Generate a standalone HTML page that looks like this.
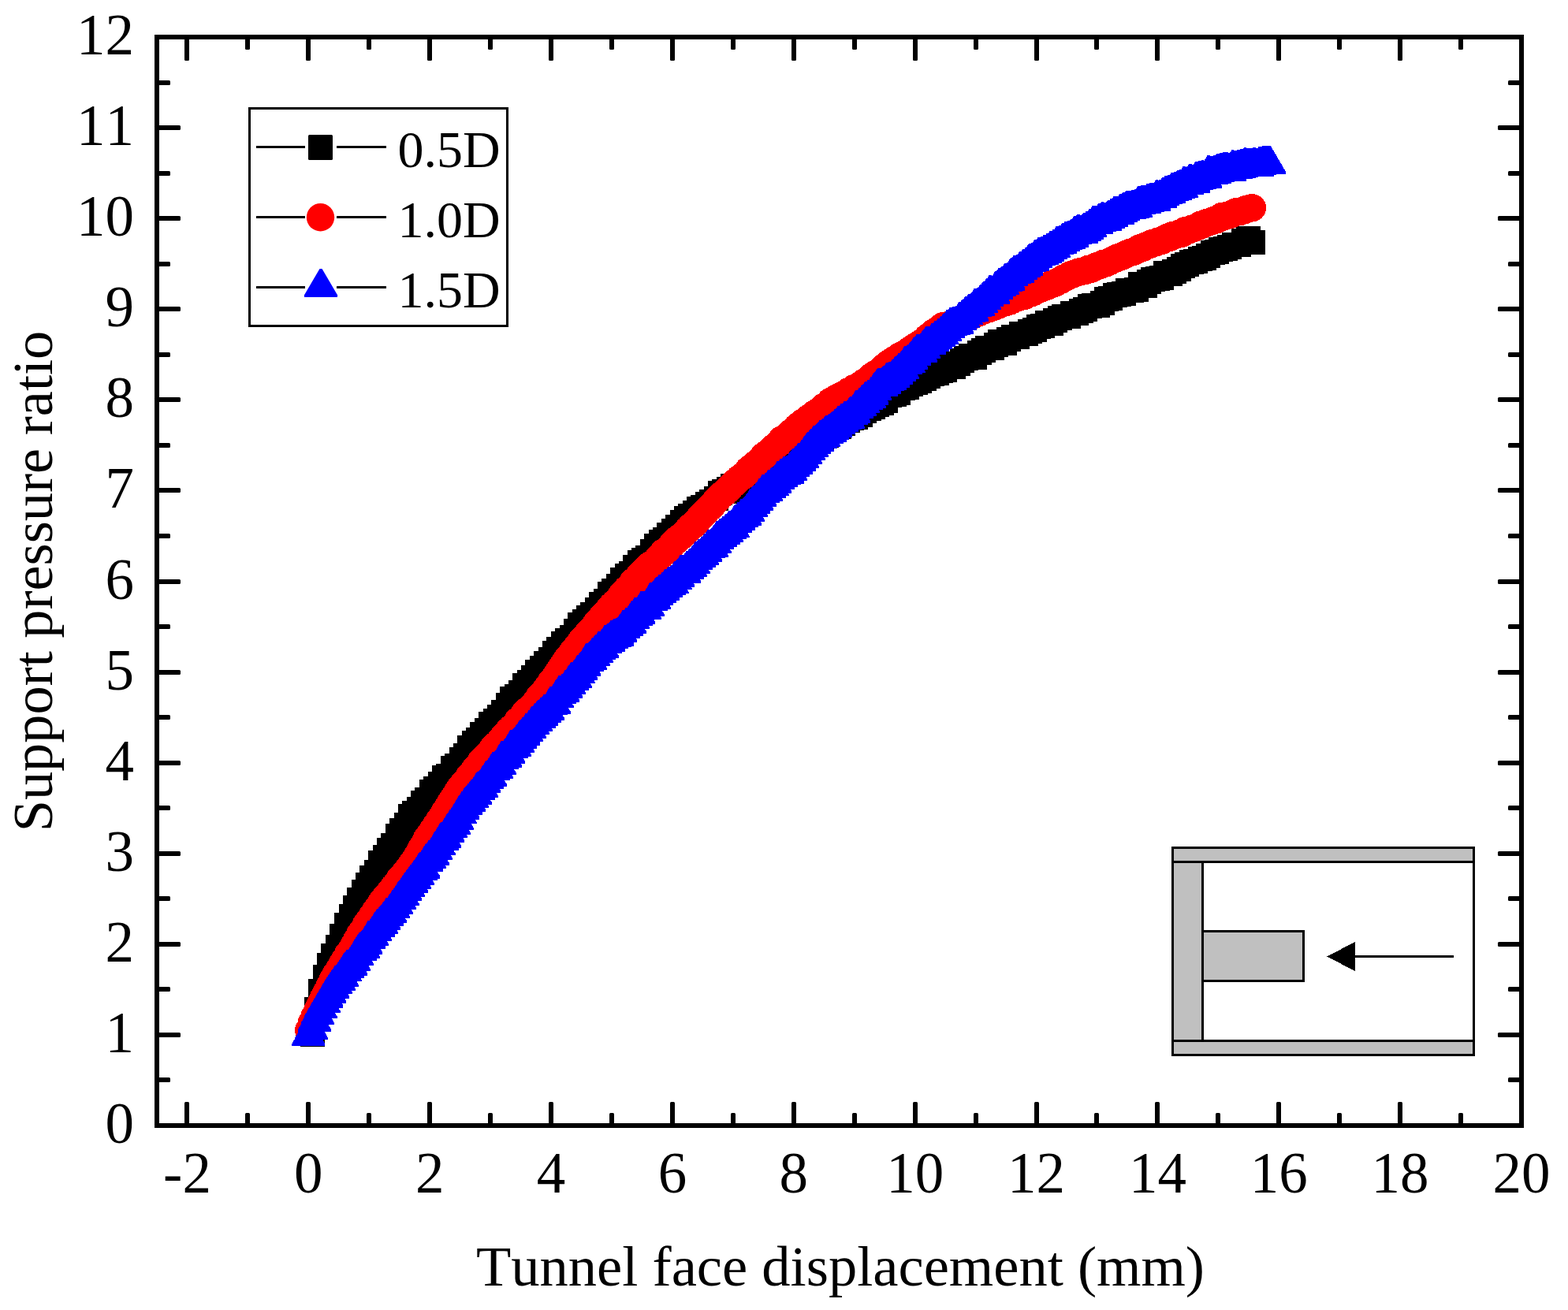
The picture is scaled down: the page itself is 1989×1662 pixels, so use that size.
<!DOCTYPE html>
<html lang="en"><head><meta charset="utf-8"><title>Support pressure ratio vs tunnel face displacement</title>
<style>html,body{margin:0;padding:0;background:#fff}body{width:1989px;height:1662px}svg{display:block}text{font-family:"Liberation Serif","DejaVu Serif",serif;fill:#000;font-kerning:none}</style>
</head><body>
<svg width="1989" height="1662" viewBox="0 0 1989 1662">
<rect x="0" y="0" width="1989" height="1662" fill="#fff"/>
<g id="series-05D" fill="#000" shape-rendering="crispEdges">
<rect x="381" y="1297" width="31" height="31"/>
<rect x="385.8" y="1265.2" width="31" height="31"/>
<rect x="391.1" y="1242.3" width="31" height="31"/>
<rect x="397.1" y="1224.2" width="31" height="31"/>
<rect x="402.1" y="1209.1" width="31" height="31"/>
<rect x="407.1" y="1197.1" width="31" height="31"/>
<rect x="413.1" y="1186" width="31" height="31"/>
<rect x="418.2" y="1172.1" width="31" height="31"/>
<rect x="424.1" y="1158.1" width="31" height="31"/>
<rect x="429.5" y="1146.5" width="31" height="31"/>
<rect x="434.8" y="1136.3" width="31" height="31"/>
<rect x="440.2" y="1125.7" width="31" height="31"/>
<rect x="445.6" y="1115.5" width="31" height="31"/>
<rect x="451" y="1107.4" width="31" height="31"/>
<rect x="456.4" y="1098.2" width="31" height="31"/>
<rect x="461.8" y="1090.6" width="31" height="31"/>
<rect x="467.2" y="1079.3" width="31" height="31"/>
<rect x="472.5" y="1071.5" width="31" height="31"/>
<rect x="477.9" y="1063.2" width="31" height="31"/>
<rect x="483.3" y="1057.3" width="31" height="31"/>
<rect x="488.7" y="1044.8" width="31" height="31"/>
<rect x="494.1" y="1038.1" width="31" height="31"/>
<rect x="499.5" y="1030.7" width="31" height="31"/>
<rect x="504.9" y="1020.1" width="31" height="31"/>
<rect x="510.2" y="1015.8" width="31" height="31"/>
<rect x="515.6" y="1011" width="31" height="31"/>
<rect x="521" y="1003.2" width="31" height="31"/>
<rect x="526.4" y="999.2" width="31" height="31"/>
<rect x="531.8" y="988.9" width="31" height="31"/>
<rect x="537.2" y="984.8" width="31" height="31"/>
<rect x="542.5" y="979.4" width="31" height="31"/>
<rect x="547.9" y="971.2" width="31" height="31"/>
<rect x="553.3" y="968.9" width="31" height="31"/>
<rect x="558.7" y="959.3" width="31" height="31"/>
<rect x="564.1" y="956.4" width="31" height="31"/>
<rect x="569.5" y="948.4" width="31" height="31"/>
<rect x="574.9" y="943" width="31" height="31"/>
<rect x="580.2" y="933.4" width="31" height="31"/>
<rect x="585.6" y="926.8" width="31" height="31"/>
<rect x="591" y="923.2" width="31" height="31"/>
<rect x="596.4" y="915.5" width="31" height="31"/>
<rect x="601.8" y="910.6" width="31" height="31"/>
<rect x="607.2" y="903.4" width="31" height="31"/>
<rect x="612.6" y="898.6" width="31" height="31"/>
<rect x="617.9" y="893.6" width="31" height="31"/>
<rect x="623.3" y="887.8" width="31" height="31"/>
<rect x="628.7" y="879.1" width="31" height="31"/>
<rect x="634.1" y="871" width="31" height="31"/>
<rect x="639.5" y="867.7" width="31" height="31"/>
<rect x="644.9" y="862.9" width="31" height="31"/>
<rect x="650.3" y="853.8" width="31" height="31"/>
<rect x="655.6" y="849.7" width="31" height="31"/>
<rect x="661" y="843.5" width="31" height="31"/>
<rect x="666.4" y="837.1" width="31" height="31"/>
<rect x="671.8" y="831.6" width="31" height="31"/>
<rect x="677.2" y="825.9" width="31" height="31"/>
<rect x="682.6" y="821.4" width="31" height="31"/>
<rect x="688" y="813.1" width="31" height="31"/>
<rect x="693.3" y="808.1" width="31" height="31"/>
<rect x="698.7" y="800.9" width="31" height="31"/>
<rect x="704.1" y="797.2" width="31" height="31"/>
<rect x="709.5" y="793.2" width="31" height="31"/>
<rect x="714.9" y="784.9" width="31" height="31"/>
<rect x="720.3" y="776.6" width="31" height="31"/>
<rect x="725.6" y="773.4" width="31" height="31"/>
<rect x="731" y="768" width="31" height="31"/>
<rect x="736.4" y="763.9" width="31" height="31"/>
<rect x="741.8" y="758.2" width="31" height="31"/>
<rect x="747.2" y="751.2" width="31" height="31"/>
<rect x="752.6" y="746.6" width="31" height="31"/>
<rect x="758" y="737.5" width="31" height="31"/>
<rect x="763.3" y="734" width="31" height="31"/>
<rect x="768.7" y="727.8" width="31" height="31"/>
<rect x="774.1" y="720.4" width="31" height="31"/>
<rect x="779.5" y="714.6" width="31" height="31"/>
<rect x="784.9" y="711.5" width="31" height="31"/>
<rect x="790.3" y="703.8" width="31" height="31"/>
<rect x="795.7" y="698.3" width="31" height="31"/>
<rect x="801" y="694.7" width="31" height="31"/>
<rect x="806.4" y="691.9" width="31" height="31"/>
<rect x="811.8" y="683.6" width="31" height="31"/>
<rect x="817.2" y="677.4" width="31" height="31"/>
<rect x="822.6" y="672.2" width="31" height="31"/>
<rect x="828" y="668.5" width="31" height="31"/>
<rect x="833.4" y="662.6" width="31" height="31"/>
<rect x="838.7" y="658.4" width="31" height="31"/>
<rect x="844.1" y="653.4" width="31" height="31"/>
<rect x="849.5" y="646.8" width="31" height="31"/>
<rect x="854.9" y="642" width="31" height="31"/>
<rect x="860.3" y="638.8" width="31" height="31"/>
<rect x="865.7" y="634.7" width="31" height="31"/>
<rect x="871.1" y="630.4" width="31" height="31"/>
<rect x="876.4" y="627.5" width="31" height="31"/>
<rect x="881.8" y="624.1" width="31" height="31"/>
<rect x="887.2" y="621.4" width="31" height="31"/>
<rect x="892.6" y="617" width="31" height="31"/>
<rect x="898" y="610" width="31" height="31"/>
<rect x="903.4" y="607.6" width="31" height="31"/>
<rect x="908.8" y="605" width="31" height="31"/>
<rect x="914.1" y="601.2" width="31" height="31"/>
<rect x="919.5" y="607.9" width="31" height="31"/>
<rect x="924.9" y="598.1" width="31" height="31"/>
<rect x="930.3" y="595.4" width="31" height="31"/>
<rect x="935.7" y="595.1" width="31" height="31"/>
<rect x="941.1" y="590" width="31" height="31"/>
<rect x="946.4" y="588.6" width="31" height="31"/>
<rect x="951.8" y="583" width="31" height="31"/>
<rect x="957.2" y="581.4" width="31" height="31"/>
<rect x="962.6" y="576.3" width="31" height="31"/>
<rect x="968" y="573.8" width="31" height="31"/>
<rect x="973.4" y="570.5" width="31" height="31"/>
<rect x="978.8" y="566.7" width="31" height="31"/>
<rect x="984.1" y="562.6" width="31" height="31"/>
<rect x="989.5" y="560" width="31" height="31"/>
<rect x="994.9" y="559.1" width="31" height="31"/>
<rect x="1000.3" y="554.1" width="31" height="31"/>
<rect x="1005.7" y="551" width="31" height="31"/>
<rect x="1011.1" y="548.3" width="31" height="31"/>
<rect x="1016.5" y="545.4" width="31" height="31"/>
<rect x="1021.8" y="539" width="31" height="31"/>
<rect x="1027.2" y="538.5" width="31" height="31"/>
<rect x="1032.6" y="537" width="31" height="31"/>
<rect x="1038" y="531.7" width="31" height="31"/>
<rect x="1043.4" y="529" width="31" height="31"/>
<rect x="1048.8" y="525.9" width="31" height="31"/>
<rect x="1054.2" y="521.5" width="31" height="31"/>
<rect x="1059.5" y="518.4" width="31" height="31"/>
<rect x="1064.9" y="515.2" width="31" height="31"/>
<rect x="1070.3" y="513.5" width="31" height="31"/>
<rect x="1075.7" y="511.1" width="31" height="31"/>
<rect x="1081.1" y="505.7" width="31" height="31"/>
<rect x="1086.5" y="502.8" width="31" height="31"/>
<rect x="1091.9" y="500.6" width="31" height="31"/>
<rect x="1097.2" y="497.6" width="31" height="31"/>
<rect x="1102.6" y="495.8" width="31" height="31"/>
<rect x="1108" y="492.6" width="31" height="31"/>
<rect x="1113.4" y="486.3" width="31" height="31"/>
<rect x="1118.8" y="484.8" width="31" height="31"/>
<rect x="1124.2" y="482.6" width="31" height="31"/>
<rect x="1129.5" y="476.9" width="31" height="31"/>
<rect x="1134.9" y="475.7" width="31" height="31"/>
<rect x="1140.3" y="471.6" width="31" height="31"/>
<rect x="1145.7" y="470.1" width="31" height="31"/>
<rect x="1151.1" y="467.9" width="31" height="31"/>
<rect x="1156.5" y="464.8" width="31" height="31"/>
<rect x="1161.9" y="462" width="31" height="31"/>
<rect x="1167.2" y="459" width="31" height="31"/>
<rect x="1172.6" y="457.6" width="31" height="31"/>
<rect x="1178" y="454.7" width="31" height="31"/>
<rect x="1183.4" y="454.1" width="31" height="31"/>
<rect x="1188.8" y="450.1" width="31" height="31"/>
<rect x="1194.2" y="449.8" width="31" height="31"/>
<rect x="1199.6" y="445.5" width="31" height="31"/>
<rect x="1204.9" y="442.1" width="31" height="31"/>
<rect x="1210.3" y="439.3" width="31" height="31"/>
<rect x="1215.7" y="436.1" width="31" height="31"/>
<rect x="1221.1" y="437.6" width="31" height="31"/>
<rect x="1226.5" y="431.9" width="31" height="31"/>
<rect x="1231.9" y="428.6" width="31" height="31"/>
<rect x="1237.3" y="426.2" width="31" height="31"/>
<rect x="1242.6" y="426" width="31" height="31"/>
<rect x="1248" y="421.8" width="31" height="31"/>
<rect x="1253.4" y="417.5" width="31" height="31"/>
<rect x="1258.8" y="419.5" width="31" height="31"/>
<rect x="1264.2" y="414.9" width="31" height="31"/>
<rect x="1269.6" y="412.1" width="31" height="31"/>
<rect x="1275" y="412.1" width="31" height="31"/>
<rect x="1280.3" y="408.2" width="31" height="31"/>
<rect x="1285.7" y="407.9" width="31" height="31"/>
<rect x="1291.1" y="405" width="31" height="31"/>
<rect x="1296.5" y="402.8" width="31" height="31"/>
<rect x="1301.9" y="399.4" width="31" height="31"/>
<rect x="1307.3" y="397.6" width="31" height="31"/>
<rect x="1312.7" y="394.2" width="31" height="31"/>
<rect x="1318" y="394.5" width="31" height="31"/>
<rect x="1323.4" y="391.3" width="31" height="31"/>
<rect x="1328.8" y="387.8" width="31" height="31"/>
<rect x="1334.2" y="386.1" width="31" height="31"/>
<rect x="1339.6" y="386.4" width="31" height="31"/>
<rect x="1345" y="382" width="31" height="31"/>
<rect x="1350.3" y="381.6" width="31" height="31"/>
<rect x="1355.7" y="378.7" width="31" height="31"/>
<rect x="1361.1" y="376.7" width="31" height="31"/>
<rect x="1366.5" y="373.1" width="31" height="31"/>
<rect x="1371.9" y="371.9" width="31" height="31"/>
<rect x="1377.3" y="371.8" width="31" height="31"/>
<rect x="1382.7" y="368.9" width="31" height="31"/>
<rect x="1388" y="364.1" width="31" height="31"/>
<rect x="1393.4" y="363.2" width="31" height="31"/>
<rect x="1398.8" y="359.1" width="31" height="31"/>
<rect x="1404.2" y="357.9" width="31" height="31"/>
<rect x="1409.6" y="357.1" width="31" height="31"/>
<rect x="1415" y="352.6" width="31" height="31"/>
<rect x="1420.4" y="352.9" width="31" height="31"/>
<rect x="1425.7" y="352.3" width="31" height="31"/>
<rect x="1431.1" y="344.8" width="31" height="31"/>
<rect x="1436.5" y="347.4" width="31" height="31"/>
<rect x="1441.9" y="341.8" width="31" height="31"/>
<rect x="1447.3" y="339.1" width="31" height="31"/>
<rect x="1452.7" y="337.6" width="31" height="31"/>
<rect x="1458.1" y="337.3" width="31" height="31"/>
<rect x="1463.4" y="331.2" width="31" height="31"/>
<rect x="1468.8" y="331.8" width="31" height="31"/>
<rect x="1474.2" y="329.3" width="31" height="31"/>
<rect x="1479.6" y="325.7" width="31" height="31"/>
<rect x="1485" y="321.8" width="31" height="31"/>
<rect x="1490.4" y="319.8" width="31" height="31"/>
<rect x="1495.8" y="316.5" width="31" height="31"/>
<rect x="1501.1" y="315.5" width="31" height="31"/>
<rect x="1506.5" y="312.9" width="31" height="31"/>
<rect x="1511.9" y="311.9" width="31" height="31"/>
<rect x="1517.3" y="308.7" width="31" height="31"/>
<rect x="1522.7" y="305.3" width="31" height="31"/>
<rect x="1528.1" y="304.1" width="31" height="31"/>
<rect x="1533.4" y="300.8" width="31" height="31"/>
<rect x="1538.8" y="299.9" width="31" height="31"/>
<rect x="1544.2" y="297.7" width="31" height="31"/>
<rect x="1549.6" y="294.8" width="31" height="31"/>
<rect x="1556" y="294.7" width="31" height="31"/>
<rect x="1562.1" y="290.4" width="31" height="31"/>
<rect x="1567.5" y="287.1" width="31" height="31"/>
<rect x="1574.1" y="291.9" width="31" height="31"/>
</g>
<g id="series-10D" fill="#f00" shape-rendering="crispEdges">
<circle cx="391.7" cy="1307.2" r="17.7"/>
<circle cx="395.2" cy="1298.1" r="17.7"/>
<circle cx="399" cy="1289.7" r="17.7"/>
<circle cx="402.9" cy="1281.6" r="17.7"/>
<circle cx="406.7" cy="1273.6" r="17.7"/>
<circle cx="410.6" cy="1265.7" r="17.7"/>
<circle cx="414.4" cy="1258.5" r="17.7"/>
<circle cx="418.3" cy="1250.7" r="17.7"/>
<circle cx="422.1" cy="1243.1" r="17.7"/>
<circle cx="426" cy="1236.5" r="17.7"/>
<circle cx="429.8" cy="1230.5" r="17.7"/>
<circle cx="433.7" cy="1223.6" r="17.7"/>
<circle cx="437.5" cy="1217.5" r="17.7"/>
<circle cx="441.4" cy="1210.9" r="17.7"/>
<circle cx="445.2" cy="1206.1" r="17.7"/>
<circle cx="449.1" cy="1199.4" r="17.7"/>
<circle cx="452.9" cy="1192.1" r="17.7"/>
<circle cx="456.8" cy="1185.2" r="17.7"/>
<circle cx="460.6" cy="1180.6" r="17.7"/>
<circle cx="464.5" cy="1172.9" r="17.7"/>
<circle cx="468.3" cy="1167.7" r="17.7"/>
<circle cx="472.2" cy="1161.9" r="17.7"/>
<circle cx="476" cy="1156.5" r="17.7"/>
<circle cx="479.9" cy="1151" r="17.7"/>
<circle cx="483.7" cy="1145" r="17.7"/>
<circle cx="487.6" cy="1140.2" r="17.7"/>
<circle cx="491.4" cy="1135.6" r="17.7"/>
<circle cx="495.3" cy="1131" r="17.7"/>
<circle cx="499.1" cy="1125.9" r="17.7"/>
<circle cx="503" cy="1121.1" r="17.7"/>
<circle cx="506.8" cy="1115.8" r="17.7"/>
<circle cx="510.7" cy="1111.8" r="17.7"/>
<circle cx="514.5" cy="1106.6" r="17.7"/>
<circle cx="518.4" cy="1101.7" r="17.7"/>
<circle cx="522.2" cy="1096.5" r="17.7"/>
<circle cx="526.1" cy="1090.8" r="17.7"/>
<circle cx="529.9" cy="1084.8" r="17.7"/>
<circle cx="533.8" cy="1077.6" r="17.7"/>
<circle cx="537.6" cy="1071.7" r="17.7"/>
<circle cx="541.4" cy="1064.1" r="17.7"/>
<circle cx="545.3" cy="1059" r="17.7"/>
<circle cx="549.1" cy="1053.3" r="17.7"/>
<circle cx="553" cy="1047.4" r="17.7"/>
<circle cx="556.8" cy="1041.8" r="17.7"/>
<circle cx="560.7" cy="1036.1" r="17.7"/>
<circle cx="564.5" cy="1029.6" r="17.7"/>
<circle cx="568.4" cy="1023.4" r="17.7"/>
<circle cx="572.2" cy="1017.4" r="17.7"/>
<circle cx="576.1" cy="1011.7" r="17.7"/>
<circle cx="579.9" cy="1005.7" r="17.7"/>
<circle cx="583.8" cy="999.4" r="17.7"/>
<circle cx="587.6" cy="994.8" r="17.7"/>
<circle cx="591.5" cy="990.6" r="17.7"/>
<circle cx="595.3" cy="985.2" r="17.7"/>
<circle cx="599.2" cy="980.7" r="17.7"/>
<circle cx="603" cy="975.5" r="17.7"/>
<circle cx="606.9" cy="971.2" r="17.7"/>
<circle cx="610.7" cy="965.3" r="17.7"/>
<circle cx="614.6" cy="961.8" r="17.7"/>
<circle cx="618.4" cy="957.9" r="17.7"/>
<circle cx="622.3" cy="953.5" r="17.7"/>
<circle cx="626.1" cy="948.3" r="17.7"/>
<circle cx="630" cy="944.7" r="17.7"/>
<circle cx="633.8" cy="940.9" r="17.7"/>
<circle cx="637.7" cy="936" r="17.7"/>
<circle cx="641.5" cy="932.2" r="17.7"/>
<circle cx="645.4" cy="927.3" r="17.7"/>
<circle cx="649.2" cy="923.7" r="17.7"/>
<circle cx="653.1" cy="920.9" r="17.7"/>
<circle cx="656.9" cy="914.6" r="17.7"/>
<circle cx="660.8" cy="912.1" r="17.7"/>
<circle cx="664.6" cy="906.2" r="17.7"/>
<circle cx="668.5" cy="901.9" r="17.7"/>
<circle cx="672.3" cy="898.9" r="17.7"/>
<circle cx="676.2" cy="894.9" r="17.7"/>
<circle cx="680" cy="890.3" r="17.7"/>
<circle cx="683.9" cy="884.3" r="17.7"/>
<circle cx="687.7" cy="880.3" r="17.7"/>
<circle cx="691.6" cy="875.9" r="17.7"/>
<circle cx="695.4" cy="871" r="17.7"/>
<circle cx="699.3" cy="864.7" r="17.7"/>
<circle cx="703.1" cy="860.5" r="17.7"/>
<circle cx="707" cy="854.8" r="17.7"/>
<circle cx="710.8" cy="849" r="17.7"/>
<circle cx="714.7" cy="843.1" r="17.7"/>
<circle cx="718.5" cy="837.4" r="17.7"/>
<circle cx="722.4" cy="833" r="17.7"/>
<circle cx="726.2" cy="827.5" r="17.7"/>
<circle cx="730.1" cy="822.8" r="17.7"/>
<circle cx="733.9" cy="818" r="17.7"/>
<circle cx="737.8" cy="812.3" r="17.7"/>
<circle cx="741.6" cy="808.7" r="17.7"/>
<circle cx="745.5" cy="804.1" r="17.7"/>
<circle cx="749.3" cy="800.1" r="17.7"/>
<circle cx="753.2" cy="795.7" r="17.7"/>
<circle cx="757" cy="790.3" r="17.7"/>
<circle cx="760.9" cy="786.3" r="17.7"/>
<circle cx="764.7" cy="781.4" r="17.7"/>
<circle cx="768.5" cy="777.8" r="17.7"/>
<circle cx="772.4" cy="773.1" r="17.7"/>
<circle cx="776.2" cy="768.7" r="17.7"/>
<circle cx="780.1" cy="764.8" r="17.7"/>
<circle cx="783.9" cy="761.6" r="17.7"/>
<circle cx="787.8" cy="756" r="17.7"/>
<circle cx="791.6" cy="751.9" r="17.7"/>
<circle cx="795.5" cy="747.3" r="17.7"/>
<circle cx="799.3" cy="744.2" r="17.7"/>
<circle cx="803.2" cy="737.9" r="17.7"/>
<circle cx="807" cy="735.8" r="17.7"/>
<circle cx="810.9" cy="730.3" r="17.7"/>
<circle cx="814.7" cy="726.5" r="17.7"/>
<circle cx="818.6" cy="722.9" r="17.7"/>
<circle cx="822.4" cy="718.6" r="17.7"/>
<circle cx="826.3" cy="716" r="17.7"/>
<circle cx="830.1" cy="713.9" r="17.7"/>
<circle cx="834" cy="709.8" r="17.7"/>
<circle cx="837.8" cy="705.3" r="17.7"/>
<circle cx="841.7" cy="700.7" r="17.7"/>
<circle cx="845.5" cy="699.2" r="17.7"/>
<circle cx="849.4" cy="694.6" r="17.7"/>
<circle cx="853.2" cy="689.9" r="17.7"/>
<circle cx="857.1" cy="686.3" r="17.7"/>
<circle cx="860.9" cy="683" r="17.7"/>
<circle cx="864.8" cy="680.1" r="17.7"/>
<circle cx="868.6" cy="676.6" r="17.7"/>
<circle cx="872.5" cy="672.4" r="17.7"/>
<circle cx="876.3" cy="668.4" r="17.7"/>
<circle cx="880.2" cy="665.7" r="17.7"/>
<circle cx="884" cy="661.6" r="17.7"/>
<circle cx="887.9" cy="656.5" r="17.7"/>
<circle cx="891.7" cy="652.8" r="17.7"/>
<circle cx="895.6" cy="648.9" r="17.7"/>
<circle cx="899.4" cy="644.8" r="17.7"/>
<circle cx="903.3" cy="641.3" r="17.7"/>
<circle cx="907.1" cy="636.5" r="17.7"/>
<circle cx="911" cy="632.4" r="17.7"/>
<circle cx="914.8" cy="628.4" r="17.7"/>
<circle cx="918.7" cy="625.5" r="17.7"/>
<circle cx="922.5" cy="621.9" r="17.7"/>
<circle cx="926.4" cy="617.9" r="17.7"/>
<circle cx="930.2" cy="614.1" r="17.7"/>
<circle cx="934.1" cy="610.7" r="17.7"/>
<circle cx="937.9" cy="607.1" r="17.7"/>
<circle cx="941.8" cy="604.5" r="17.7"/>
<circle cx="945.6" cy="601.4" r="17.7"/>
<circle cx="949.5" cy="596.4" r="17.7"/>
<circle cx="953.3" cy="593.4" r="17.7"/>
<circle cx="957.2" cy="589.9" r="17.7"/>
<circle cx="961" cy="586.9" r="17.7"/>
<circle cx="964.9" cy="583.8" r="17.7"/>
<circle cx="968.7" cy="578.9" r="17.7"/>
<circle cx="972.6" cy="576" r="17.7"/>
<circle cx="976.4" cy="573.5" r="17.7"/>
<circle cx="980.3" cy="569.2" r="17.7"/>
<circle cx="984.1" cy="565.8" r="17.7"/>
<circle cx="988" cy="562.2" r="17.7"/>
<circle cx="991.8" cy="557.8" r="17.7"/>
<circle cx="995.6" cy="555.7" r="17.7"/>
<circle cx="999.5" cy="553" r="17.7"/>
<circle cx="1003.3" cy="548.9" r="17.7"/>
<circle cx="1007.2" cy="546" r="17.7"/>
<circle cx="1011" cy="541.9" r="17.7"/>
<circle cx="1014.9" cy="538.9" r="17.7"/>
<circle cx="1018.7" cy="535.8" r="17.7"/>
<circle cx="1022.6" cy="533.6" r="17.7"/>
<circle cx="1026.4" cy="530.3" r="17.7"/>
<circle cx="1030.3" cy="528.1" r="17.7"/>
<circle cx="1034.1" cy="524.6" r="17.7"/>
<circle cx="1038" cy="522.2" r="17.7"/>
<circle cx="1041.8" cy="519.8" r="17.7"/>
<circle cx="1045.7" cy="515.8" r="17.7"/>
<circle cx="1049.5" cy="513.4" r="17.7"/>
<circle cx="1053.4" cy="509.4" r="17.7"/>
<circle cx="1057.2" cy="507.4" r="17.7"/>
<circle cx="1061.1" cy="505" r="17.7"/>
<circle cx="1064.9" cy="503.1" r="17.7"/>
<circle cx="1068.8" cy="501.3" r="17.7"/>
<circle cx="1072.6" cy="500.6" r="17.7"/>
<circle cx="1076.5" cy="496.5" r="17.7"/>
<circle cx="1080.3" cy="495.5" r="17.7"/>
<circle cx="1084.2" cy="492.3" r="17.7"/>
<circle cx="1088" cy="490.8" r="17.7"/>
<circle cx="1091.9" cy="488.1" r="17.7"/>
<circle cx="1095.7" cy="485.5" r="17.7"/>
<circle cx="1099.6" cy="483.2" r="17.7"/>
<circle cx="1103.4" cy="479.9" r="17.7"/>
<circle cx="1107.3" cy="476.6" r="17.7"/>
<circle cx="1111.1" cy="474.1" r="17.7"/>
<circle cx="1115" cy="471.7" r="17.7"/>
<circle cx="1118.8" cy="468.4" r="17.7"/>
<circle cx="1122.7" cy="465.1" r="17.7"/>
<circle cx="1126.5" cy="461.8" r="17.7"/>
<circle cx="1130.4" cy="459.2" r="17.7"/>
<circle cx="1134.2" cy="456.8" r="17.7"/>
<circle cx="1138.1" cy="455.1" r="17.7"/>
<circle cx="1141.9" cy="451.6" r="17.7"/>
<circle cx="1145.8" cy="449.8" r="17.7"/>
<circle cx="1149.6" cy="447.7" r="17.7"/>
<circle cx="1153.5" cy="444.7" r="17.7"/>
<circle cx="1157.3" cy="442.4" r="17.7"/>
<circle cx="1161.2" cy="439.7" r="17.7"/>
<circle cx="1165" cy="438.1" r="17.7"/>
<circle cx="1168.9" cy="434.9" r="17.7"/>
<circle cx="1172.7" cy="432.5" r="17.7"/>
<circle cx="1176.6" cy="428.3" r="17.7"/>
<circle cx="1180.4" cy="425.5" r="17.7"/>
<circle cx="1184.3" cy="422.1" r="17.7"/>
<circle cx="1188.1" cy="419.8" r="17.7"/>
<circle cx="1192" cy="417.6" r="17.7"/>
<circle cx="1195.8" cy="413.9" r="17.7"/>
<circle cx="1199.7" cy="413.7" r="17.7"/>
<circle cx="1203.5" cy="412.5" r="17.7"/>
<circle cx="1207.4" cy="410.3" r="17.7"/>
<circle cx="1211.2" cy="408" r="17.7"/>
<circle cx="1215" cy="407" r="17.7"/>
<circle cx="1218.9" cy="405.8" r="17.7"/>
<circle cx="1222.7" cy="404.6" r="17.7"/>
<circle cx="1226.6" cy="401.5" r="17.7"/>
<circle cx="1230.4" cy="401.2" r="17.7"/>
<circle cx="1234.3" cy="399.9" r="17.7"/>
<circle cx="1238.1" cy="397.8" r="17.7"/>
<circle cx="1242" cy="396.6" r="17.7"/>
<circle cx="1245.8" cy="394.8" r="17.7"/>
<circle cx="1249.7" cy="392.5" r="17.7"/>
<circle cx="1253.5" cy="392.1" r="17.7"/>
<circle cx="1257.4" cy="390.5" r="17.7"/>
<circle cx="1261.2" cy="389.2" r="17.7"/>
<circle cx="1265.1" cy="387.7" r="17.7"/>
<circle cx="1268.9" cy="385.7" r="17.7"/>
<circle cx="1272.8" cy="384.4" r="17.7"/>
<circle cx="1276.6" cy="383.5" r="17.7"/>
<circle cx="1280.5" cy="382.3" r="17.7"/>
<circle cx="1284.3" cy="380.4" r="17.7"/>
<circle cx="1288.2" cy="378.3" r="17.7"/>
<circle cx="1292" cy="377.3" r="17.7"/>
<circle cx="1295.9" cy="375.8" r="17.7"/>
<circle cx="1299.7" cy="375.3" r="17.7"/>
<circle cx="1303.6" cy="372.2" r="17.7"/>
<circle cx="1307.4" cy="372.1" r="17.7"/>
<circle cx="1311.3" cy="370.4" r="17.7"/>
<circle cx="1315.1" cy="368.4" r="17.7"/>
<circle cx="1319" cy="366.6" r="17.7"/>
<circle cx="1322.8" cy="365" r="17.7"/>
<circle cx="1326.7" cy="363.8" r="17.7"/>
<circle cx="1330.5" cy="361.9" r="17.7"/>
<circle cx="1334.4" cy="360.6" r="17.7"/>
<circle cx="1338.2" cy="359.4" r="17.7"/>
<circle cx="1342.1" cy="357" r="17.7"/>
<circle cx="1345.9" cy="355.3" r="17.7"/>
<circle cx="1349.8" cy="352.7" r="17.7"/>
<circle cx="1353.6" cy="351.2" r="17.7"/>
<circle cx="1357.5" cy="348.9" r="17.7"/>
<circle cx="1361.3" cy="347.7" r="17.7"/>
<circle cx="1365.2" cy="346.3" r="17.7"/>
<circle cx="1369" cy="344.9" r="17.7"/>
<circle cx="1372.9" cy="344.1" r="17.7"/>
<circle cx="1376.7" cy="343.4" r="17.7"/>
<circle cx="1380.6" cy="341.3" r="17.7"/>
<circle cx="1384.4" cy="341.3" r="17.7"/>
<circle cx="1388.3" cy="339.3" r="17.7"/>
<circle cx="1392.1" cy="337.3" r="17.7"/>
<circle cx="1396" cy="336.4" r="17.7"/>
<circle cx="1399.8" cy="334.2" r="17.7"/>
<circle cx="1403.7" cy="333.6" r="17.7"/>
<circle cx="1407.5" cy="331.9" r="17.7"/>
<circle cx="1411.4" cy="329.8" r="17.7"/>
<circle cx="1415.2" cy="328.2" r="17.7"/>
<circle cx="1419.1" cy="326.3" r="17.7"/>
<circle cx="1422.9" cy="325.4" r="17.7"/>
<circle cx="1426.8" cy="323.4" r="17.7"/>
<circle cx="1430.6" cy="321.5" r="17.7"/>
<circle cx="1434.5" cy="320" r="17.7"/>
<circle cx="1438.3" cy="319.3" r="17.7"/>
<circle cx="1442.1" cy="317.3" r="17.7"/>
<circle cx="1446" cy="314.6" r="17.7"/>
<circle cx="1449.8" cy="314.5" r="17.7"/>
<circle cx="1453.7" cy="311.9" r="17.7"/>
<circle cx="1457.5" cy="310.9" r="17.7"/>
<circle cx="1461.4" cy="308.6" r="17.7"/>
<circle cx="1465.2" cy="308.1" r="17.7"/>
<circle cx="1469.1" cy="306.1" r="17.7"/>
<circle cx="1472.9" cy="305.8" r="17.7"/>
<circle cx="1476.8" cy="303.3" r="17.7"/>
<circle cx="1480.6" cy="301.2" r="17.7"/>
<circle cx="1484.5" cy="301.2" r="17.7"/>
<circle cx="1488.3" cy="298.2" r="17.7"/>
<circle cx="1492.2" cy="297.8" r="17.7"/>
<circle cx="1496" cy="296" r="17.7"/>
<circle cx="1499.9" cy="296.1" r="17.7"/>
<circle cx="1503.7" cy="292.4" r="17.7"/>
<circle cx="1507.6" cy="292" r="17.7"/>
<circle cx="1511.4" cy="290.4" r="17.7"/>
<circle cx="1515.3" cy="289.3" r="17.7"/>
<circle cx="1519.1" cy="287.7" r="17.7"/>
<circle cx="1523" cy="285.1" r="17.7"/>
<circle cx="1526.8" cy="284.6" r="17.7"/>
<circle cx="1530.7" cy="282.4" r="17.7"/>
<circle cx="1534.5" cy="281.6" r="17.7"/>
<circle cx="1538.4" cy="279.9" r="17.7"/>
<circle cx="1542.2" cy="279.1" r="17.7"/>
<circle cx="1546.1" cy="277.1" r="17.7"/>
<circle cx="1549.9" cy="274.5" r="17.7"/>
<circle cx="1553.8" cy="274.3" r="17.7"/>
<circle cx="1557.6" cy="273" r="17.7"/>
<circle cx="1561.5" cy="272.2" r="17.7"/>
<circle cx="1565.3" cy="269.9" r="17.7"/>
<circle cx="1569.2" cy="268.3" r="17.7"/>
<circle cx="1573" cy="268.5" r="17.7"/>
<circle cx="1576.9" cy="267.2" r="17.7"/>
<circle cx="1580.7" cy="265.4" r="17.7"/>
<circle cx="1584.6" cy="264.5" r="17.7"/>
<circle cx="1588.4" cy="263.7" r="17.7"/>
</g>
<g id="series-15D" fill="#00f" shape-rendering="crispEdges">
<path d="M389.8 1290.7h3l19.5 33.3v2.7h-42v-2.7z"/>
<path d="M393.7 1283.4h3l19.5 33.3v2.7h-42v-2.7z"/>
<path d="M397.5 1272.6h3l19.5 33.3v2.7h-42v-2.7z"/>
<path d="M401.4 1264h3l19.5 33.3v2.7h-42v-2.7z"/>
<path d="M405.2 1256.3h3l19.5 33.3v2.7h-42v-2.7z"/>
<path d="M409.1 1249.2h3l19.5 33.3v2.7h-42v-2.7z"/>
<path d="M412.9 1242.7h3l19.5 33.3v2.7h-42v-2.7z"/>
<path d="M416.7 1236.6h3l19.5 33.3v2.7h-42v-2.7z"/>
<path d="M420.6 1230.8h3l19.5 33.3v2.7h-42v-2.7z"/>
<path d="M424.4 1225.4h3l19.5 33.3v2.7h-42v-2.7z"/>
<path d="M428.3 1221.2h3l19.5 33.3v2.7h-42v-2.7z"/>
<path d="M432.1 1215.6h3l19.5 33.3v2.7h-42v-2.7z"/>
<path d="M436 1209.3h3l19.5 33.3v2.7h-42v-2.7z"/>
<path d="M439.8 1204.5h3l19.5 33.3v2.7h-42v-2.7z"/>
<path d="M443.7 1201.5h3l19.5 33.3v2.7h-42v-2.7z"/>
<path d="M447.5 1196.3h3l19.5 33.3v2.7h-42v-2.7z"/>
<path d="M451.3 1189.4h3l19.5 33.3v2.7h-42v-2.7z"/>
<path d="M455.2 1183.4h3l19.5 33.3v2.7h-42v-2.7z"/>
<path d="M459 1179.8h3l19.5 33.3v2.7h-42v-2.7z"/>
<path d="M462.9 1175.2h3l19.5 33.3v2.7h-42v-2.7z"/>
<path d="M466.7 1168.1h3l19.5 33.3v2.7h-42v-2.7z"/>
<path d="M470.6 1164.4h3l19.5 33.3v2.7h-42v-2.7z"/>
<path d="M474.4 1158.3h3l19.5 33.3v2.7h-42v-2.7z"/>
<path d="M478.3 1152.5h3l19.5 33.3v2.7h-42v-2.7z"/>
<path d="M482.1 1148.6h3l19.5 33.3v2.7h-42v-2.7z"/>
<path d="M485.9 1144.4h3l19.5 33.3v2.7h-42v-2.7z"/>
<path d="M489.8 1138.7h3l19.5 33.3v2.7h-42v-2.7z"/>
<path d="M493.6 1135.1h3l19.5 33.3v2.7h-42v-2.7z"/>
<path d="M497.5 1129.3h3l19.5 33.3v2.7h-42v-2.7z"/>
<path d="M501.3 1124.2h3l19.5 33.3v2.7h-42v-2.7z"/>
<path d="M505.2 1118.2h3l19.5 33.3v2.7h-42v-2.7z"/>
<path d="M509 1113h3l19.5 33.3v2.7h-42v-2.7z"/>
<path d="M512.8 1107.3h3l19.5 33.3v2.7h-42v-2.7z"/>
<path d="M516.7 1102.4h3l19.5 33.3v2.7h-42v-2.7z"/>
<path d="M520.5 1097h3l19.5 33.3v2.7h-42v-2.7z"/>
<path d="M524.4 1092h3l19.5 33.3v2.7h-42v-2.7z"/>
<path d="M528.2 1086.9h3l19.5 33.3v2.7h-42v-2.7z"/>
<path d="M532.1 1080.7h3l19.5 33.3v2.7h-42v-2.7z"/>
<path d="M535.9 1078.6h3l19.5 33.3v2.7h-42v-2.7z"/>
<path d="M539.8 1070.3h3l19.5 33.3v2.7h-42v-2.7z"/>
<path d="M543.6 1066.3h3l19.5 33.3v2.7h-42v-2.7z"/>
<path d="M547.4 1061.7h3l19.5 33.3v2.7h-42v-2.7z"/>
<path d="M551.3 1055.1h3l19.5 33.3v2.7h-42v-2.7z"/>
<path d="M555.1 1049.3h3l19.5 33.3v2.7h-42v-2.7z"/>
<path d="M559 1042.9h3l19.5 33.3v2.7h-42v-2.7z"/>
<path d="M562.8 1039.7h3l19.5 33.3v2.7h-42v-2.7z"/>
<path d="M566.7 1032.8h3l19.5 33.3v2.7h-42v-2.7z"/>
<path d="M570.5 1027.2h3l19.5 33.3v2.7h-42v-2.7z"/>
<path d="M574.4 1023.2h3l19.5 33.3v2.7h-42v-2.7z"/>
<path d="M578.2 1016.8h3l19.5 33.3v2.7h-42v-2.7z"/>
<path d="M582 1009.3h3l19.5 33.3v2.7h-42v-2.7z"/>
<path d="M585.9 1003.7h3l19.5 33.3v2.7h-42v-2.7z"/>
<path d="M589.7 998.2h3l19.5 33.3v2.7h-42v-2.7z"/>
<path d="M593.6 993.8h3l19.5 33.3v2.7h-42v-2.7z"/>
<path d="M597.4 989.1h3l19.5 33.3v2.7h-42v-2.7z"/>
<path d="M601.3 984.5h3l19.5 33.3v2.7h-42v-2.7z"/>
<path d="M605.1 978.5h3l19.5 33.3v2.7h-42v-2.7z"/>
<path d="M609 975.7h3l19.5 33.3v2.7h-42v-2.7z"/>
<path d="M612.8 970h3l19.5 33.3v2.7h-42v-2.7z"/>
<path d="M616.6 964.6h3l19.5 33.3v2.7h-42v-2.7z"/>
<path d="M620.5 961.9h3l19.5 33.3v2.7h-42v-2.7z"/>
<path d="M624.3 954.3h3l19.5 33.3v2.7h-42v-2.7z"/>
<path d="M628.2 951.9h3l19.5 33.3v2.7h-42v-2.7z"/>
<path d="M632 946.6h3l19.5 33.3v2.7h-42v-2.7z"/>
<path d="M635.9 939.6h3l19.5 33.3v2.7h-42v-2.7z"/>
<path d="M639.7 937.9h3l19.5 33.3v2.7h-42v-2.7z"/>
<path d="M643.6 932.7h3l19.5 33.3v2.7h-42v-2.7z"/>
<path d="M647.4 925.7h3l19.5 33.3v2.7h-42v-2.7z"/>
<path d="M651.2 923.9h3l19.5 33.3v2.7h-42v-2.7z"/>
<path d="M655.1 918.9h3l19.5 33.3v2.7h-42v-2.7z"/>
<path d="M658.9 913.6h3l19.5 33.3v2.7h-42v-2.7z"/>
<path d="M662.8 909.5h3l19.5 33.3v2.7h-42v-2.7z"/>
<path d="M666.6 905.2h3l19.5 33.3v2.7h-42v-2.7z"/>
<path d="M670.5 901.2h3l19.5 33.3v2.7h-42v-2.7z"/>
<path d="M674.3 895.8h3l19.5 33.3v2.7h-42v-2.7z"/>
<path d="M678.2 891.7h3l19.5 33.3v2.7h-42v-2.7z"/>
<path d="M682 887.7h3l19.5 33.3v2.7h-42v-2.7z"/>
<path d="M685.8 884.8h3l19.5 33.3v2.7h-42v-2.7z"/>
<path d="M689.7 880.7h3l19.5 33.3v2.7h-42v-2.7z"/>
<path d="M693.5 877.9h3l19.5 33.3v2.7h-42v-2.7z"/>
<path d="M697.4 871.2h3l19.5 33.3v2.7h-42v-2.7z"/>
<path d="M701.2 869.5h3l19.5 33.3v2.7h-42v-2.7z"/>
<path d="M705.1 862.3h3l19.5 33.3v2.7h-42v-2.7z"/>
<path d="M708.9 856.7h3l19.5 33.3v2.7h-42v-2.7z"/>
<path d="M712.7 855h3l19.5 33.3v2.7h-42v-2.7z"/>
<path d="M716.6 850h3l19.5 33.3v2.7h-42v-2.7z"/>
<path d="M720.4 845.3h3l19.5 33.3v2.7h-42v-2.7z"/>
<path d="M724.3 839.5h3l19.5 33.3v2.7h-42v-2.7z"/>
<path d="M728.1 836.8h3l19.5 33.3v2.7h-42v-2.7z"/>
<path d="M732 831.4h3l19.5 33.3v2.7h-42v-2.7z"/>
<path d="M735.8 827h3l19.5 33.3v2.7h-42v-2.7z"/>
<path d="M739.7 822h3l19.5 33.3v2.7h-42v-2.7z"/>
<path d="M743.5 815.8h3l19.5 33.3v2.7h-42v-2.7z"/>
<path d="M747.3 813.9h3l19.5 33.3v2.7h-42v-2.7z"/>
<path d="M751.2 808.8h3l19.5 33.3v2.7h-42v-2.7z"/>
<path d="M755 804.8h3l19.5 33.3v2.7h-42v-2.7z"/>
<path d="M758.9 800.5h3l19.5 33.3v2.7h-42v-2.7z"/>
<path d="M762.7 799.1h3l19.5 33.3v2.7h-42v-2.7z"/>
<path d="M766.6 793.2h3l19.5 33.3v2.7h-42v-2.7z"/>
<path d="M770.4 790.7h3l19.5 33.3v2.7h-42v-2.7z"/>
<path d="M774.3 787.2h3l19.5 33.3v2.7h-42v-2.7z"/>
<path d="M778.1 785h3l19.5 33.3v2.7h-42v-2.7z"/>
<path d="M781.9 783.7h3l19.5 33.3v2.7h-42v-2.7z"/>
<path d="M785.8 779.3h3l19.5 33.3v2.7h-42v-2.7z"/>
<path d="M789.6 774.2h3l19.5 33.3v2.7h-42v-2.7z"/>
<path d="M793.5 771.2h3l19.5 33.3v2.7h-42v-2.7z"/>
<path d="M797.3 767.5h3l19.5 33.3v2.7h-42v-2.7z"/>
<path d="M801.2 761.7h3l19.5 33.3v2.7h-42v-2.7z"/>
<path d="M805 757.5h3l19.5 33.3v2.7h-42v-2.7z"/>
<path d="M808.9 755.9h3l19.5 33.3v2.7h-42v-2.7z"/>
<path d="M812.7 750h3l19.5 33.3v2.7h-42v-2.7z"/>
<path d="M816.5 750.2h3l19.5 33.3v2.7h-42v-2.7z"/>
<path d="M820.4 746.3h3l19.5 33.3v2.7h-42v-2.7z"/>
<path d="M824.2 739.3h3l19.5 33.3v2.7h-42v-2.7z"/>
<path d="M828.1 736.6h3l19.5 33.3v2.7h-42v-2.7z"/>
<path d="M831.9 732h3l19.5 33.3v2.7h-42v-2.7z"/>
<path d="M835.8 728.5h3l19.5 33.3v2.7h-42v-2.7z"/>
<path d="M839.6 725.8h3l19.5 33.3v2.7h-42v-2.7z"/>
<path d="M843.5 721.7h3l19.5 33.3v2.7h-42v-2.7z"/>
<path d="M847.3 719h3l19.5 33.3v2.7h-42v-2.7z"/>
<path d="M851.1 717.4h3l19.5 33.3v2.7h-42v-2.7z"/>
<path d="M855 712.3h3l19.5 33.3v2.7h-42v-2.7z"/>
<path d="M858.8 709.1h3l19.5 33.3v2.7h-42v-2.7z"/>
<path d="M862.7 704.1h3l19.5 33.3v2.7h-42v-2.7z"/>
<path d="M866.5 703.8h3l19.5 33.3v2.7h-42v-2.7z"/>
<path d="M870.4 699.1h3l19.5 33.3v2.7h-42v-2.7z"/>
<path d="M874.2 696h3l19.5 33.3v2.7h-42v-2.7z"/>
<path d="M878.1 692.1h3l19.5 33.3v2.7h-42v-2.7z"/>
<path d="M881.9 686.6h3l19.5 33.3v2.7h-42v-2.7z"/>
<path d="M885.7 684.1h3l19.5 33.3v2.7h-42v-2.7z"/>
<path d="M889.6 681.2h3l19.5 33.3v2.7h-42v-2.7z"/>
<path d="M893.4 676.7h3l19.5 33.3v2.7h-42v-2.7z"/>
<path d="M897.3 672.3h3l19.5 33.3v2.7h-42v-2.7z"/>
<path d="M901.1 670.5h3l19.5 33.3v2.7h-42v-2.7z"/>
<path d="M905 666.1h3l19.5 33.3v2.7h-42v-2.7z"/>
<path d="M908.8 660.6h3l19.5 33.3v2.7h-42v-2.7z"/>
<path d="M912.6 657.8h3l19.5 33.3v2.7h-42v-2.7z"/>
<path d="M916.5 655.1h3l19.5 33.3v2.7h-42v-2.7z"/>
<path d="M920.3 652.1h3l19.5 33.3v2.7h-42v-2.7z"/>
<path d="M924.2 648.3h3l19.5 33.3v2.7h-42v-2.7z"/>
<path d="M928 646.2h3l19.5 33.3v2.7h-42v-2.7z"/>
<path d="M931.9 640h3l19.5 33.3v2.7h-42v-2.7z"/>
<path d="M935.7 636.9h3l19.5 33.3v2.7h-42v-2.7z"/>
<path d="M939.6 633.3h3l19.5 33.3v2.7h-42v-2.7z"/>
<path d="M943.4 630.7h3l19.5 33.3v2.7h-42v-2.7z"/>
<path d="M947.2 625.9h3l19.5 33.3v2.7h-42v-2.7z"/>
<path d="M951.1 620.2h3l19.5 33.3v2.7h-42v-2.7z"/>
<path d="M954.9 616h3l19.5 33.3v2.7h-42v-2.7z"/>
<path d="M958.8 612.4h3l19.5 33.3v2.7h-42v-2.7z"/>
<path d="M962.6 607h3l19.5 33.3v2.7h-42v-2.7z"/>
<path d="M966.5 602.4h3l19.5 33.3v2.7h-42v-2.7z"/>
<path d="M970.3 600.2h3l19.5 33.3v2.7h-42v-2.7z"/>
<path d="M974.2 596.3h3l19.5 33.3v2.7h-42v-2.7z"/>
<path d="M978 593.2h3l19.5 33.3v2.7h-42v-2.7z"/>
<path d="M981.8 590.3h3l19.5 33.3v2.7h-42v-2.7z"/>
<path d="M985.7 585.1h3l19.5 33.3v2.7h-42v-2.7z"/>
<path d="M989.5 582.3h3l19.5 33.3v2.7h-42v-2.7z"/>
<path d="M993.4 579.3h3l19.5 33.3v2.7h-42v-2.7z"/>
<path d="M997.2 577.5h3l19.5 33.3v2.7h-42v-2.7z"/>
<path d="M1001.1 574h3l19.5 33.3v2.7h-42v-2.7z"/>
<path d="M1004.9 569.3h3l19.5 33.3v2.7h-42v-2.7z"/>
<path d="M1008.8 565.9h3l19.5 33.3v2.7h-42v-2.7z"/>
<path d="M1012.6 561.5h3l19.5 33.3v2.7h-42v-2.7z"/>
<path d="M1016.4 558.4h3l19.5 33.3v2.7h-42v-2.7z"/>
<path d="M1020.3 553h3l19.5 33.3v2.7h-42v-2.7z"/>
<path d="M1024.1 547.7h3l19.5 33.3v2.7h-42v-2.7z"/>
<path d="M1028 543.9h3l19.5 33.3v2.7h-42v-2.7z"/>
<path d="M1031.8 539.8h3l19.5 33.3v2.7h-42v-2.7z"/>
<path d="M1035.7 537.4h3l19.5 33.3v2.7h-42v-2.7z"/>
<path d="M1039.5 532.9h3l19.5 33.3v2.7h-42v-2.7z"/>
<path d="M1043.4 530.9h3l19.5 33.3v2.7h-42v-2.7z"/>
<path d="M1047.2 526.5h3l19.5 33.3v2.7h-42v-2.7z"/>
<path d="M1051 524.8h3l19.5 33.3v2.7h-42v-2.7z"/>
<path d="M1054.9 521.9h3l19.5 33.3v2.7h-42v-2.7z"/>
<path d="M1058.7 519.1h3l19.5 33.3v2.7h-42v-2.7z"/>
<path d="M1062.6 514.7h3l19.5 33.3v2.7h-42v-2.7z"/>
<path d="M1066.4 512.3h3l19.5 33.3v2.7h-42v-2.7z"/>
<path d="M1070.3 509.3h3l19.5 33.3v2.7h-42v-2.7z"/>
<path d="M1074.1 507.5h3l19.5 33.3v2.7h-42v-2.7z"/>
<path d="M1078 502.9h3l19.5 33.3v2.7h-42v-2.7z"/>
<path d="M1081.8 501.1h3l19.5 33.3v2.7h-42v-2.7z"/>
<path d="M1085.6 494.5h3l19.5 33.3v2.7h-42v-2.7z"/>
<path d="M1089.5 492.3h3l19.5 33.3v2.7h-42v-2.7z"/>
<path d="M1093.3 488h3l19.5 33.3v2.7h-42v-2.7z"/>
<path d="M1097.2 484.1h3l19.5 33.3v2.7h-42v-2.7z"/>
<path d="M1101 481.6h3l19.5 33.3v2.7h-42v-2.7z"/>
<path d="M1104.9 477.5h3l19.5 33.3v2.7h-42v-2.7z"/>
<path d="M1108.7 472.4h3l19.5 33.3v2.7h-42v-2.7z"/>
<path d="M1112.6 467.4h3l19.5 33.3v2.7h-42v-2.7z"/>
<path d="M1116.4 466.9h3l19.5 33.3v2.7h-42v-2.7z"/>
<path d="M1120.2 463.5h3l19.5 33.3v2.7h-42v-2.7z"/>
<path d="M1124.1 459.9h3l19.5 33.3v2.7h-42v-2.7z"/>
<path d="M1127.9 458.7h3l19.5 33.3v2.7h-42v-2.7z"/>
<path d="M1131.8 455.8h3l19.5 33.3v2.7h-42v-2.7z"/>
<path d="M1135.6 451.5h3l19.5 33.3v2.7h-42v-2.7z"/>
<path d="M1139.5 447.9h3l19.5 33.3v2.7h-42v-2.7z"/>
<path d="M1143.3 444.9h3l19.5 33.3v2.7h-42v-2.7z"/>
<path d="M1147.1 439.3h3l19.5 33.3v2.7h-42v-2.7z"/>
<path d="M1151 437.3h3l19.5 33.3v2.7h-42v-2.7z"/>
<path d="M1154.8 433h3l19.5 33.3v2.7h-42v-2.7z"/>
<path d="M1158.7 427.9h3l19.5 33.3v2.7h-42v-2.7z"/>
<path d="M1162.5 424h3l19.5 33.3v2.7h-42v-2.7z"/>
<path d="M1166.4 423.7h3l19.5 33.3v2.7h-42v-2.7z"/>
<path d="M1170.2 418.9h3l19.5 33.3v2.7h-42v-2.7z"/>
<path d="M1174.1 414h3l19.5 33.3v2.7h-42v-2.7z"/>
<path d="M1177.9 413.5h3l19.5 33.3v2.7h-42v-2.7z"/>
<path d="M1181.7 409.9h3l19.5 33.3v2.7h-42v-2.7z"/>
<path d="M1185.6 407.2h3l19.5 33.3v2.7h-42v-2.7z"/>
<path d="M1189.4 404.1h3l19.5 33.3v2.7h-42v-2.7z"/>
<path d="M1193.3 400.8h3l19.5 33.3v2.7h-42v-2.7z"/>
<path d="M1197.1 396.5h3l19.5 33.3v2.7h-42v-2.7z"/>
<path d="M1201 392.5h3l19.5 33.3v2.7h-42v-2.7z"/>
<path d="M1204.8 389.6h3l19.5 33.3v2.7h-42v-2.7z"/>
<path d="M1208.7 388.5h3l19.5 33.3v2.7h-42v-2.7z"/>
<path d="M1212.5 387.9h3l19.5 33.3v2.7h-42v-2.7z"/>
<path d="M1216.3 383.1h3l19.5 33.3v2.7h-42v-2.7z"/>
<path d="M1220.2 380.2h3l19.5 33.3v2.7h-42v-2.7z"/>
<path d="M1224 376.2h3l19.5 33.3v2.7h-42v-2.7z"/>
<path d="M1227.9 373.4h3l19.5 33.3v2.7h-42v-2.7z"/>
<path d="M1231.7 371.8h3l19.5 33.3v2.7h-42v-2.7z"/>
<path d="M1235.6 366.2h3l19.5 33.3v2.7h-42v-2.7z"/>
<path d="M1239.4 365.4h3l19.5 33.3v2.7h-42v-2.7z"/>
<path d="M1243.3 360.7h3l19.5 33.3v2.7h-42v-2.7z"/>
<path d="M1247.1 356.5h3l19.5 33.3v2.7h-42v-2.7z"/>
<path d="M1250.9 353.3h3l19.5 33.3v2.7h-42v-2.7z"/>
<path d="M1254.8 348.8h3l19.5 33.3v2.7h-42v-2.7z"/>
<path d="M1258.6 349.7h3l19.5 33.3v2.7h-42v-2.7z"/>
<path d="M1262.5 343.8h3l19.5 33.3v2.7h-42v-2.7z"/>
<path d="M1266.3 340.3h3l19.5 33.3v2.7h-42v-2.7z"/>
<path d="M1270.2 338.2h3l19.5 33.3v2.7h-42v-2.7z"/>
<path d="M1274 334h3l19.5 33.3v2.7h-42v-2.7z"/>
<path d="M1277.9 332.5h3l19.5 33.3v2.7h-42v-2.7z"/>
<path d="M1281.7 327.4h3l19.5 33.3v2.7h-42v-2.7z"/>
<path d="M1285.5 324.2h3l19.5 33.3v2.7h-42v-2.7z"/>
<path d="M1289.4 322.6h3l19.5 33.3v2.7h-42v-2.7z"/>
<path d="M1293.2 319.2h3l19.5 33.3v2.7h-42v-2.7z"/>
<path d="M1297.1 315.8h3l19.5 33.3v2.7h-42v-2.7z"/>
<path d="M1300.9 313.6h3l19.5 33.3v2.7h-42v-2.7z"/>
<path d="M1304.8 309.2h3l19.5 33.3v2.7h-42v-2.7z"/>
<path d="M1308.6 307.5h3l19.5 33.3v2.7h-42v-2.7z"/>
<path d="M1312.5 303.6h3l19.5 33.3v2.7h-42v-2.7z"/>
<path d="M1316.3 301.2h3l19.5 33.3v2.7h-42v-2.7z"/>
<path d="M1320.1 299.7h3l19.5 33.3v2.7h-42v-2.7z"/>
<path d="M1324 297.5h3l19.5 33.3v2.7h-42v-2.7z"/>
<path d="M1327.8 295.7h3l19.5 33.3v2.7h-42v-2.7z"/>
<path d="M1331.7 293.1h3l19.5 33.3v2.7h-42v-2.7z"/>
<path d="M1335.5 291.1h3l19.5 33.3v2.7h-42v-2.7z"/>
<path d="M1339.4 287.4h3l19.5 33.3v2.7h-42v-2.7z"/>
<path d="M1343.2 286.3h3l19.5 33.3v2.7h-42v-2.7z"/>
<path d="M1347 283h3l19.5 33.3v2.7h-42v-2.7z"/>
<path d="M1350.9 280.8h3l19.5 33.3v2.7h-42v-2.7z"/>
<path d="M1354.7 279.7h3l19.5 33.3v2.7h-42v-2.7z"/>
<path d="M1358.6 277.6h3l19.5 33.3v2.7h-42v-2.7z"/>
<path d="M1362.4 273.9h3l19.5 33.3v2.7h-42v-2.7z"/>
<path d="M1366.3 272.1h3l19.5 33.3v2.7h-42v-2.7z"/>
<path d="M1370.1 272.6h3l19.5 33.3v2.7h-42v-2.7z"/>
<path d="M1374 269.7h3l19.5 33.3v2.7h-42v-2.7z"/>
<path d="M1377.8 267.6h3l19.5 33.3v2.7h-42v-2.7z"/>
<path d="M1381.6 265.3h3l19.5 33.3v2.7h-42v-2.7z"/>
<path d="M1385.5 261.4h3l19.5 33.3v2.7h-42v-2.7z"/>
<path d="M1389.3 260.5h3l19.5 33.3v2.7h-42v-2.7z"/>
<path d="M1393.2 258.2h3l19.5 33.3v2.7h-42v-2.7z"/>
<path d="M1397 256h3l19.5 33.3v2.7h-42v-2.7z"/>
<path d="M1400.9 256.5h3l19.5 33.3v2.7h-42v-2.7z"/>
<path d="M1404.7 254.3h3l19.5 33.3v2.7h-42v-2.7z"/>
<path d="M1408.6 252h3l19.5 33.3v2.7h-42v-2.7z"/>
<path d="M1412.4 249.1h3l19.5 33.3v2.7h-42v-2.7z"/>
<path d="M1416.2 248.6h3l19.5 33.3v2.7h-42v-2.7z"/>
<path d="M1420.1 246.2h3l19.5 33.3v2.7h-42v-2.7z"/>
<path d="M1423.9 244h3l19.5 33.3v2.7h-42v-2.7z"/>
<path d="M1427.8 242.4h3l19.5 33.3v2.7h-42v-2.7z"/>
<path d="M1431.6 241.6h3l19.5 33.3v2.7h-42v-2.7z"/>
<path d="M1435.5 241.3h3l19.5 33.3v2.7h-42v-2.7z"/>
<path d="M1439.3 240.4h3l19.5 33.3v2.7h-42v-2.7z"/>
<path d="M1443.2 235.9h3l19.5 33.3v2.7h-42v-2.7z"/>
<path d="M1447 234.9h3l19.5 33.3v2.7h-42v-2.7z"/>
<path d="M1450.8 234.9h3l19.5 33.3v2.7h-42v-2.7z"/>
<path d="M1454.7 233h3l19.5 33.3v2.7h-42v-2.7z"/>
<path d="M1458.5 231.6h3l19.5 33.3v2.7h-42v-2.7z"/>
<path d="M1462.4 231.5h3l19.5 33.3v2.7h-42v-2.7z"/>
<path d="M1466.2 228.1h3l19.5 33.3v2.7h-42v-2.7z"/>
<path d="M1470.1 227.6h3l19.5 33.3v2.7h-42v-2.7z"/>
<path d="M1473.9 225.4h3l19.5 33.3v2.7h-42v-2.7z"/>
<path d="M1477.8 222.6h3l19.5 33.3v2.7h-42v-2.7z"/>
<path d="M1481.6 221.7h3l19.5 33.3v2.7h-42v-2.7z"/>
<path d="M1485.4 219.3h3l19.5 33.3v2.7h-42v-2.7z"/>
<path d="M1489.3 217.6h3l19.5 33.3v2.7h-42v-2.7z"/>
<path d="M1493.1 216.3h3l19.5 33.3v2.7h-42v-2.7z"/>
<path d="M1497 214.5h3l19.5 33.3v2.7h-42v-2.7z"/>
<path d="M1500.8 210.9h3l19.5 33.3v2.7h-42v-2.7z"/>
<path d="M1504.7 211.3h3l19.5 33.3v2.7h-42v-2.7z"/>
<path d="M1508.5 207.6h3l19.5 33.3v2.7h-42v-2.7z"/>
<path d="M1512.4 208.5h3l19.5 33.3v2.7h-42v-2.7z"/>
<path d="M1516.2 205.1h3l19.5 33.3v2.7h-42v-2.7z"/>
<path d="M1520 203.9h3l19.5 33.3v2.7h-42v-2.7z"/>
<path d="M1523.9 203.1h3l19.5 33.3v2.7h-42v-2.7z"/>
<path d="M1527.7 203.3h3l19.5 33.3v2.7h-42v-2.7z"/>
<path d="M1531.6 197.1h3l19.5 33.3v2.7h-42v-2.7z"/>
<path d="M1535.4 198.4h3l19.5 33.3v2.7h-42v-2.7z"/>
<path d="M1539.3 197h3l19.5 33.3v2.7h-42v-2.7z"/>
<path d="M1543.1 194.9h3l19.5 33.3v2.7h-42v-2.7z"/>
<path d="M1546.9 194.2h3l19.5 33.3v2.7h-42v-2.7z"/>
<path d="M1550.8 193.1h3l19.5 33.3v2.7h-42v-2.7z"/>
<path d="M1554.6 192.9h3l19.5 33.3v2.7h-42v-2.7z"/>
<path d="M1558.5 193.5h3l19.5 33.3v2.7h-42v-2.7z"/>
<path d="M1562.3 190.3h3l19.5 33.3v2.7h-42v-2.7z"/>
<path d="M1566.2 191.4h3l19.5 33.3v2.7h-42v-2.7z"/>
<path d="M1570 189.5h3l19.5 33.3v2.7h-42v-2.7z"/>
<path d="M1573.9 188.5h3l19.5 33.3v2.7h-42v-2.7z"/>
<path d="M1577.7 187.2h3l19.5 33.3v2.7h-42v-2.7z"/>
<path d="M1581.5 188.1h3l19.5 33.3v2.7h-42v-2.7z"/>
<path d="M1585.4 187.6h3l19.5 33.3v2.7h-42v-2.7z"/>
<path d="M1589.2 186.9h3l19.5 33.3v2.7h-42v-2.7z"/>
<path d="M1593.1 188h3l19.5 33.3v2.7h-42v-2.7z"/>
<path d="M1596.9 185.6h3l19.5 33.3v2.7h-42v-2.7z"/>
<path d="M1600.8 185.2h3l19.5 33.3v2.7h-42v-2.7z"/>
<path d="M1604.6 184.7h3l19.5 33.3v2.7h-42v-2.7z"/>
<path d="M1608.5 184.5h3l19.5 33.3v2.7h-42v-2.7z"/>
</g>
<g id="axes" fill="#000" stroke="none">
<rect x="199" y="47" width="1731" height="1381" fill="none" stroke="#000" stroke-width="6"/>
<rect x="234" y="1398" width="6" height="33" rx="1.5"/>
<rect x="234" y="44" width="6" height="33" rx="1.5"/>
<rect x="311" y="1412" width="6" height="19" rx="1.5"/>
<rect x="311" y="44" width="6" height="19" rx="1.5"/>
<rect x="388" y="1398" width="6" height="33" rx="1.5"/>
<rect x="388" y="44" width="6" height="33" rx="1.5"/>
<rect x="465" y="1412" width="6" height="19" rx="1.5"/>
<rect x="465" y="44" width="6" height="19" rx="1.5"/>
<rect x="542" y="1398" width="6" height="33" rx="1.5"/>
<rect x="542" y="44" width="6" height="33" rx="1.5"/>
<rect x="619" y="1412" width="6" height="19" rx="1.5"/>
<rect x="619" y="44" width="6" height="19" rx="1.5"/>
<rect x="696" y="1398" width="6" height="33" rx="1.5"/>
<rect x="696" y="44" width="6" height="33" rx="1.5"/>
<rect x="773" y="1412" width="6" height="19" rx="1.5"/>
<rect x="773" y="44" width="6" height="19" rx="1.5"/>
<rect x="850" y="1398" width="6" height="33" rx="1.5"/>
<rect x="850" y="44" width="6" height="33" rx="1.5"/>
<rect x="927" y="1412" width="6" height="19" rx="1.5"/>
<rect x="927" y="44" width="6" height="19" rx="1.5"/>
<rect x="1004" y="1398" width="6" height="33" rx="1.5"/>
<rect x="1004" y="44" width="6" height="33" rx="1.5"/>
<rect x="1081" y="1412" width="6" height="19" rx="1.5"/>
<rect x="1081" y="44" width="6" height="19" rx="1.5"/>
<rect x="1158" y="1398" width="6" height="33" rx="1.5"/>
<rect x="1158" y="44" width="6" height="33" rx="1.5"/>
<rect x="1235" y="1412" width="6" height="19" rx="1.5"/>
<rect x="1235" y="44" width="6" height="19" rx="1.5"/>
<rect x="1312" y="1398" width="6" height="33" rx="1.5"/>
<rect x="1312" y="44" width="6" height="33" rx="1.5"/>
<rect x="1388" y="1412" width="6" height="19" rx="1.5"/>
<rect x="1388" y="44" width="6" height="19" rx="1.5"/>
<rect x="1465" y="1398" width="6" height="33" rx="1.5"/>
<rect x="1465" y="44" width="6" height="33" rx="1.5"/>
<rect x="1542" y="1412" width="6" height="19" rx="1.5"/>
<rect x="1542" y="44" width="6" height="19" rx="1.5"/>
<rect x="1619" y="1398" width="6" height="33" rx="1.5"/>
<rect x="1619" y="44" width="6" height="33" rx="1.5"/>
<rect x="1696" y="1412" width="6" height="19" rx="1.5"/>
<rect x="1696" y="44" width="6" height="19" rx="1.5"/>
<rect x="1773" y="1398" width="6" height="33" rx="1.5"/>
<rect x="1773" y="44" width="6" height="33" rx="1.5"/>
<rect x="1850" y="1412" width="6" height="19" rx="1.5"/>
<rect x="1850" y="44" width="6" height="19" rx="1.5"/>
<rect x="1927" y="1398" width="6" height="33" rx="1.5"/>
<rect x="1927" y="44" width="6" height="33" rx="1.5"/>
<rect x="196" y="1425" width="33" height="6" rx="1.5"/>
<rect x="1900" y="1425" width="33" height="6" rx="1.5"/>
<rect x="196" y="1367" width="20" height="6" rx="1.5"/>
<rect x="1913" y="1367" width="20" height="6" rx="1.5"/>
<rect x="196" y="1310" width="33" height="6" rx="1.5"/>
<rect x="1900" y="1310" width="33" height="6" rx="1.5"/>
<rect x="196" y="1252" width="20" height="6" rx="1.5"/>
<rect x="1913" y="1252" width="20" height="6" rx="1.5"/>
<rect x="196" y="1195" width="33" height="6" rx="1.5"/>
<rect x="1900" y="1195" width="33" height="6" rx="1.5"/>
<rect x="196" y="1137" width="20" height="6" rx="1.5"/>
<rect x="1913" y="1137" width="20" height="6" rx="1.5"/>
<rect x="196" y="1080" width="33" height="6" rx="1.5"/>
<rect x="1900" y="1080" width="33" height="6" rx="1.5"/>
<rect x="196" y="1022" width="20" height="6" rx="1.5"/>
<rect x="1913" y="1022" width="20" height="6" rx="1.5"/>
<rect x="196" y="965" width="33" height="6" rx="1.5"/>
<rect x="1900" y="965" width="33" height="6" rx="1.5"/>
<rect x="196" y="907" width="20" height="6" rx="1.5"/>
<rect x="1913" y="907" width="20" height="6" rx="1.5"/>
<rect x="196" y="850" width="33" height="6" rx="1.5"/>
<rect x="1900" y="850" width="33" height="6" rx="1.5"/>
<rect x="196" y="792" width="20" height="6" rx="1.5"/>
<rect x="1913" y="792" width="20" height="6" rx="1.5"/>
<rect x="196" y="735" width="33" height="6" rx="1.5"/>
<rect x="1900" y="735" width="33" height="6" rx="1.5"/>
<rect x="196" y="677" width="20" height="6" rx="1.5"/>
<rect x="1913" y="677" width="20" height="6" rx="1.5"/>
<rect x="196" y="619" width="33" height="6" rx="1.5"/>
<rect x="1900" y="619" width="33" height="6" rx="1.5"/>
<rect x="196" y="562" width="20" height="6" rx="1.5"/>
<rect x="1913" y="562" width="20" height="6" rx="1.5"/>
<rect x="196" y="504" width="33" height="6" rx="1.5"/>
<rect x="1900" y="504" width="33" height="6" rx="1.5"/>
<rect x="196" y="447" width="20" height="6" rx="1.5"/>
<rect x="1913" y="447" width="20" height="6" rx="1.5"/>
<rect x="196" y="389" width="33" height="6" rx="1.5"/>
<rect x="1900" y="389" width="33" height="6" rx="1.5"/>
<rect x="196" y="332" width="20" height="6" rx="1.5"/>
<rect x="1913" y="332" width="20" height="6" rx="1.5"/>
<rect x="196" y="274" width="33" height="6" rx="1.5"/>
<rect x="1900" y="274" width="33" height="6" rx="1.5"/>
<rect x="196" y="217" width="20" height="6" rx="1.5"/>
<rect x="1913" y="217" width="20" height="6" rx="1.5"/>
<rect x="196" y="159" width="33" height="6" rx="1.5"/>
<rect x="1900" y="159" width="33" height="6" rx="1.5"/>
<rect x="196" y="102" width="20" height="6" rx="1.5"/>
<rect x="1913" y="102" width="20" height="6" rx="1.5"/>
<rect x="196" y="44" width="33" height="6" rx="1.5"/>
<rect x="1900" y="44" width="33" height="6" rx="1.5"/>
</g>
<g id="xticklabels" font-size="73" text-anchor="middle">
<text x="237.5" y="1513">-2</text>
<text x="391.3" y="1513">0</text>
<text x="545.2" y="1513">2</text>
<text x="699.1" y="1513">4</text>
<text x="852.9" y="1513">6</text>
<text x="1006.8" y="1513">8</text>
<text x="1160.7" y="1513">10</text>
<text x="1314.5" y="1513">12</text>
<text x="1468.4" y="1513">14</text>
<text x="1622.3" y="1513">16</text>
<text x="1776.1" y="1513">18</text>
<text x="1930" y="1513">20</text>
</g>
<g id="yticklabels" font-size="73" text-anchor="end">
<text x="170" y="1450">0</text>
<text x="170" y="1334.9">1</text>
<text x="170" y="1219.8">2</text>
<text x="170" y="1104.8">3</text>
<text x="170" y="989.7">4</text>
<text x="170" y="874.6">5</text>
<text x="170" y="759.5">6</text>
<text x="170" y="644.4">7</text>
<text x="170" y="529.3">8</text>
<text x="170" y="414.2">9</text>
<text x="170" y="299.2">10</text>
<text x="170" y="184.1">11</text>
<text x="170" y="69">12</text>
</g>
<text id="xlabel" x="1066" y="1631.3" font-size="72.5" text-anchor="middle" style="letter-spacing:0px;word-spacing:0px">Tunnel face displacement (mm)</text>
<text id="ylabel" transform="translate(66,737.5) rotate(-90)" font-size="72.3" text-anchor="middle" style="letter-spacing:0px;word-spacing:-1.5px">Support pressure ratio</text>
<g id="legend">
<rect x="316.5" y="137.5" width="327" height="276" fill="#fff" stroke="#000" stroke-width="3"/>
<path d="M325 186.5 H387 M427 186.5 H490" stroke="#000" stroke-width="3" fill="none"/>
<rect x="391" y="171" width="31" height="32" rx="1.5" fill="#000"/>
<text x="504.5" y="212.1" font-size="66">0.5D</text>
<path d="M325 275.5 H387 M427 275.5 H490" stroke="#000" stroke-width="3" fill="none"/>
<circle cx="406.5" cy="275.7" r="17.7" fill="#f00"/>
<text x="504.5" y="301.1" font-size="66">1.0D</text>
<path d="M325 364.5 H387 M427 364.5 H490" stroke="#000" stroke-width="3" fill="none"/>
<path d="M405.5 340.9h3l19.5 33.3v2.7h-42v-2.7z" fill="#00f"/>
<text x="504.5" y="390.1" font-size="66">1.5D</text>
</g>
<g id="inset" stroke="#000" stroke-width="3" fill="#c0c0c0" stroke-linejoin="miter" shape-rendering="crispEdges">
<rect x="1487.5" y="1075.5" width="382" height="263" fill="#fff"/>
<rect x="1487.5" y="1075.5" width="382" height="18"/>
<rect x="1487.5" y="1320.5" width="382" height="18"/>
<rect x="1487.5" y="1093.5" width="38" height="227"/>
<rect x="1525.5" y="1181.5" width="128" height="63"/>
<path d="M1719 1213.5 H1844" fill="none"/>
<path d="M1683 1213.5 L1719 1195 V1232 Z" fill="#000" stroke="none"/>
</g>
</svg>
</body></html>
